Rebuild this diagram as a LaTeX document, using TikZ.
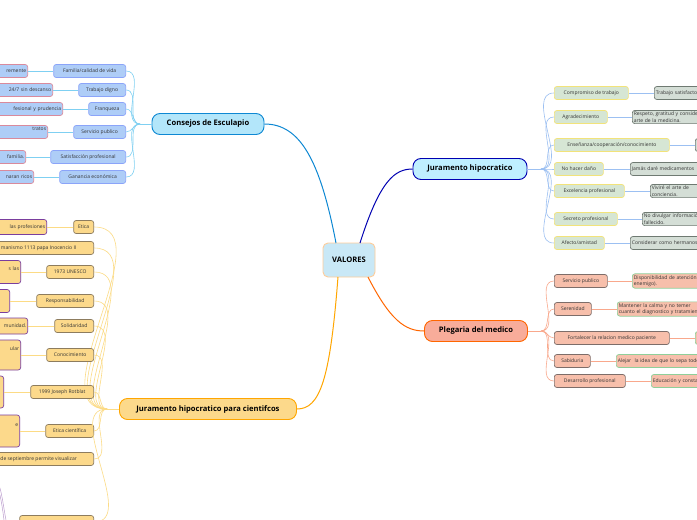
\documentclass[tikz,border=0pt]{standalone}
\usepackage{fontspec}
\setmainfont{Open Sans}
\begin{document}
\begin{tikzpicture}[x=1pt,y=-1pt,
 base/.style={rounded corners=2.5pt,line width=0.7pt,inner sep=1.5pt,font=\fontsize{5}{6.3}\selectfont,text=black!80,minimum height=13},
 main/.style={rounded corners=8pt,line width=0.9pt,font=\bfseries\fontsize{7.6}{9}\selectfont,minimum height=21},
 cB/.style={base,fill=blueC,draw=blueC!80!blue},
 lB/.style={base,fill=blueC,draw=pinkB},
 cG/.style={base,fill=greenC,draw=yelB},
 lG/.style={base,fill=greyC,draw=greyB},
 cR/.style={base,fill=salC,draw=brownB},
 lR/.style={base,fill=salC,draw=greenB},
 cY/.style={base,fill=yelC,draw=tanB},
 lY/.style={base,fill=yelC,draw=purB},
 eB/.style={draw=lnB,line width=0.6pt},
 eG/.style={draw=lnG,line width=0.6pt},
 eR/.style={draw=lnR,line width=0.6pt},
 eY/.style={draw=lnY,line width=0.6pt},
]
\definecolor{blueC}{HTML}{AECDF7}\definecolor{pinkB}{HTML}{D98A9C}
\definecolor{greenC}{HTML}{D6E6D4}\definecolor{yelB}{HTML}{F2E37A}
\definecolor{greyC}{HTML}{D4DED6}\definecolor{greyB}{HTML}{6F7A72}
\definecolor{salC}{HTML}{F7BFAB}\definecolor{brownB}{HTML}{7D6D69}
\definecolor{greenB}{HTML}{8FCF9A}\definecolor{yelC}{HTML}{FCD98B}
\definecolor{tanB}{HTML}{8D7C5E}\definecolor{purB}{HTML}{7A3E9E}
\definecolor{lnB}{HTML}{7FD0F2}\definecolor{lnG}{HTML}{9CC0F2}
\definecolor{lnR}{HTML}{F9A88C}\definecolor{lnY}{HTML}{FCDB85}
\definecolor{valC}{HTML}{C9E8F6}
\useasboundingbox (0,0) rectangle (697,520);
\fill[white] (0,0) rectangle (697,520);
% center
\node[main,rounded corners=5pt,fill=valC,draw=orange!40,minimum width=52,minimum height=34] (val) at (349,260) {VALORES};
\node[main,fill=cyan!30,draw=cyan!70!blue,minimum width=112] (cons) at (208,124) {Consejos de Esculapio};
\node[main,fill=blue!25!cyan!25,draw=blue!70!black,minimum width=114] (jur) at (470,169) {Juramento hipocratico};
\node[main,fill=salC!90!red,draw=orange!80!red,minimum width=103] (pleg) at (476,331) {Plegaria del medico};
\node[main,fill=yelC,draw=orange!70!yellow,minimum width=177] (cie) at (208,409) {Juramento hipocratico para cientifcos};
\draw[line width=1pt,draw=cyan!70!blue] (336,243) .. controls (320,160) and (300,124) .. (cons.east);
\draw[line width=1pt,draw=blue!70!black] (360,243) .. controls (380,180) and (395,169) .. (jur.west);
\draw[line width=1pt,draw=orange!80!red] (368,277) .. controls (390,320) and (405,331) .. (pleg.west);
\draw[line width=1pt,draw=orange!70!yellow] (338,277) .. controls (330,380) and (320,409) .. (cie.east);
% Consejos
\coordinate (jC) at (140,124); \draw[eB] (cons.west) -- (jC);
\foreach \n/\w/\y/\t/\x/\lt in {
 c1/72/71/{Familia/calidad de vida}/28/{remente},
 c2/47/90/{Trabajo digno}/53/{24/7 sin descanso},
 c3/37/109/{Franqueza}/63/{fesional y prudencia},
 c4/52/132/{Servicio publico}/48/{tratos\\ \mbox{}},
 c5/75/157/{Satisfacción profesional}/26/{ familia.},
 c6/66/177/{Ganancia económica}/34/{naran ricos}}{
 \node[cB,minimum width=\w,anchor=east] (\n) at (126,\y) {\t};
 \draw[eB] (jC) to[out=180,in=0] (\n.east);
 \node[lB,anchor=east,text width=80,align=right] (l\n) at (\x,\y) {\lt};
 \draw[eB] (\n.west) -- (l\n.east);
}
% Juramento
\coordinate (jJ) at (541,169); \draw[eG] (jur.east) -- (jJ);
\foreach \n/\w/\y/\t/\x/\lt in {
 j1/74/93/{Compromiso de trabajo}/654/{Trabajo satisfactorio},
 j2/53/117/{Agradecimiento}/632/{Respeto, gratitud y consideración\\arte de la medicina.},
 j3/115/145/{Enseñanza/cooperación/conocimiento}/695/{\mbox{}\\\mbox{}},
 j4/49/169/{No hacer daño}/630/{Jamás daré medicamentos},
 j5/70/191/{Excelencia profesional}/650/{Viviré el arte de\\conciencia.},
 j6/63/219/{Secreto profesional}/642/{No divulgar información\\fallecido.},
 j7/50/243/{Afecto/amistad}/630/{Considerar como hermanos}}{
 \node[cG,minimum width=\w,anchor=west] (\n) at (554,\y) {\t};
 \draw[eG] (jJ) to[out=0,in=180] (\n.west);
 \node[lG,anchor=west,text width=90,align=left] (l\n) at (\x,\y) {\lt};
 \draw[eG] (\n.east) -- (l\n.west);
}
% Plegaria
\coordinate (jP) at (541,331); \draw[eR] (pleg.east) -- (jP);
\foreach \n/\w/\y/\t/\x/\lt in {
 p1/53/281/{Servicio publico}/632/{Disponibilidad de atención\\enemigo).},
 p2/37/309/{Serenidad}/617/{Mantener la calma y no temer\\cuanto el diagnostico y tratamiento},
 p3/115/338/{Fortalecer la relacion medico paciente}/695/{\mbox{}\\\mbox{}},
 p4/36/361/{Sabiduria}/616/{Alejar\ \ la idea de que lo sepa todo},
 p5/71/381/{Desarrollo profesional}/651/{Educación y constante}}{
 \node[cR,minimum width=\w,anchor=west] (\n) at (554,\y) {\t};
 \draw[eR] (jP) to[out=0,in=180] (\n.west);
 \node[lR,anchor=west,text width=100,align=left] (l\n) at (\x,\y) {\lt};
 \draw[eR] (\n.east) -- (l\n.west);
}
% Cientificos
\coordinate (jY) at (107,409); \draw[eY] (cie.west) -- (jY);
\foreach \n/\w/\y/\t in {
 y1/20/227/{Etica}, y2/110/248/{manismo 1113 papa Inocencio II}, y3/47/272/{1973 UNESCO},
 y4/57/301/{Responsabilidad}, y5/39/326/{Solidaridad}, y6/47/355/{Conocimiento},
 y7/63/392/{1999 Joseph Rotblat}, y8/48/431/{Etica científica},
 y9/110/459/{de septiembre permite visualizar}, y10/74/522/{\mbox{}}}{
 \node[cY,minimum width=\w,anchor=east,align=right] (\n) at (94,\y) {\t};
 \draw[eY] (jY) to[out=180,in=0] (\n.east);
}
\foreach \n/\r/\y/\h/\t in {y1/47/227/15/{las profesiones}, y3/21/272/23/{s las\\ \mbox{}}, y4/10/301/23/{\mbox{}}, y5/28/326/16/{munidad.}, y6/21/355/30/{ular\\ \mbox{}\\ \mbox{}}, y7/4/392/32/{\mbox{}}, y8/20/431/32/{e\\ \mbox{}\\ \mbox{}}}{
 \node[lY,anchor=east,minimum height=\h,text width=80,align=right] (l\n) at (\r,\y) {\t};
 \draw[eY] (\n.west) -- (l\n.east);
}
\draw[draw=purB!50,line width=0.5pt] (0,488) .. controls (3,500) and (4,510) .. (6,520);
\draw[draw=purB!50,line width=0.5pt] (0,495) .. controls (2,505) and (3,512) .. (4,520);
\end{tikzpicture}
\end{document}
